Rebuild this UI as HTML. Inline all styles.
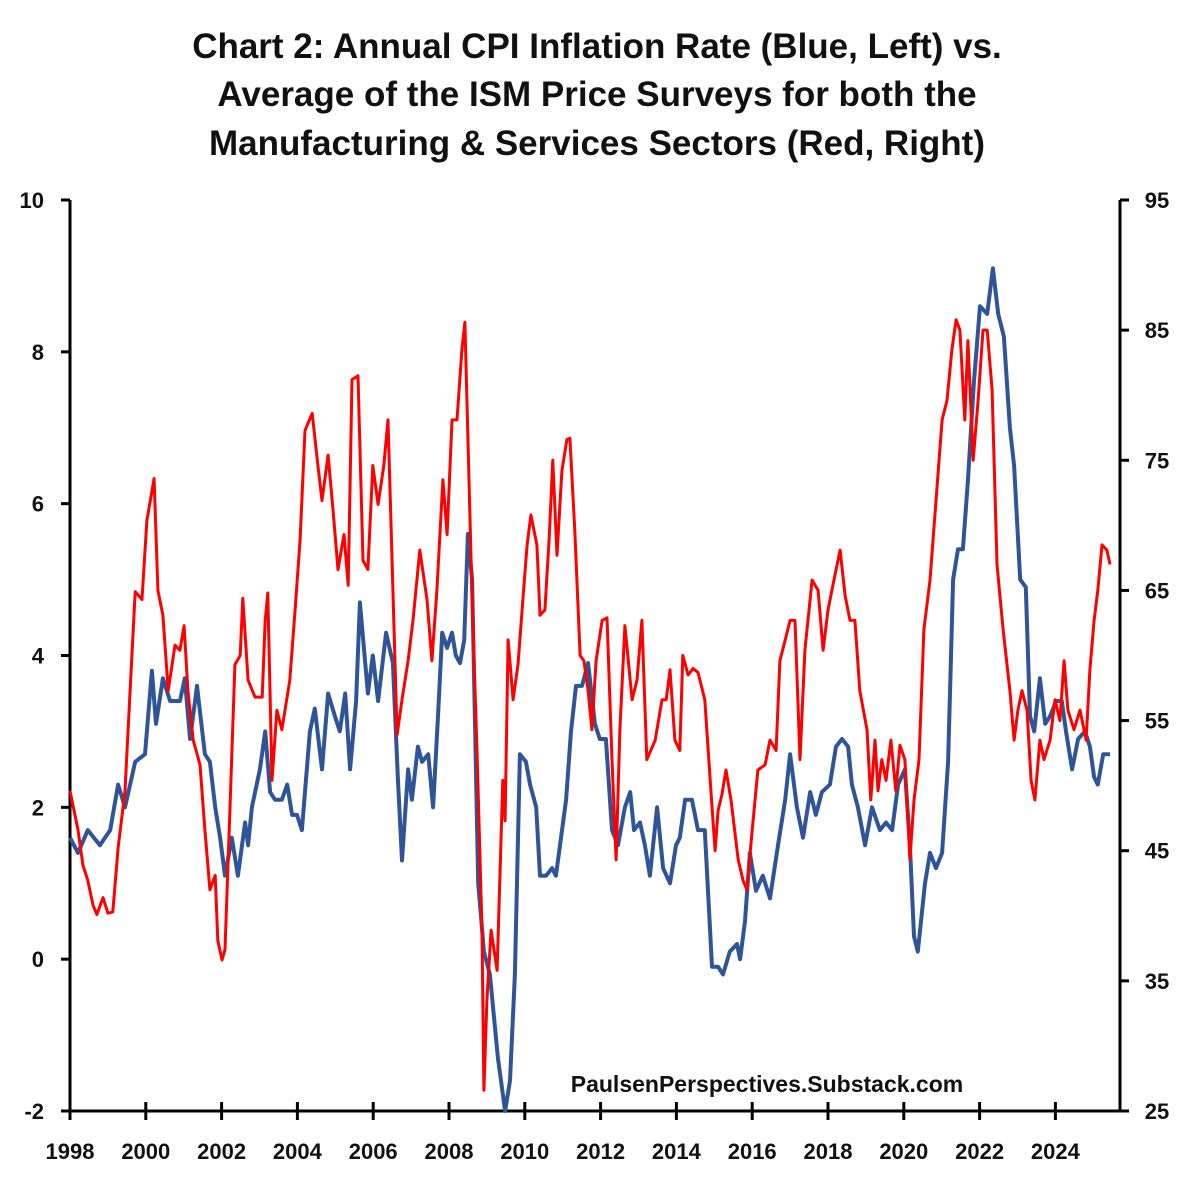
<!DOCTYPE html>
<html><head><meta charset="utf-8"><style>
body{margin:0;background:#fff;}
svg text{font-family:"Liberation Sans",Arial,sans-serif;font-weight:bold;fill:#111;}
</style></head><body>
<svg id="chart" width="1195" height="1179" xmlns="http://www.w3.org/2000/svg">
<g text-anchor="middle">
<text x="597" y="58" style="font-size:35px">Chart 2: Annual CPI Inflation Rate (Blue, Left) vs.</text>
<text x="597" y="106" style="font-size:35px">Average of the ISM Price Surveys for both the</text>
<text x="597" y="155" style="font-size:35px">Manufacturing &amp; Services Sectors (Red, Right)</text>
</g>
<g id="axes"></g>
<g id="series"></g>
<text x="767" y="1092" text-anchor="middle" style="font-size:23px">PaulsenPerspectives.Substack.com</text>
</svg>
<script>
const leftTicks=[-2,0,2,4,6,8,10];
const rightTicks=[25,35,45,55,65,75,85,95];
const yearTicks=[1998,2000,2002,2004,2006,2008,2010,2012,2014,2016,2018,2020,2022,2024];
const cpiDates=[1998.00,1998.21,1998.47,1998.79,1999.06,1999.27,1999.45,1999.72,1999.98,2000.16,2000.27,2000.45,2000.64,2000.90,2001.03,2001.17,2001.35,2001.56,2001.69,2001.83,2001.96,2002.09,2002.27,2002.43,2002.62,2002.70,2002.80,2003.01,2003.15,2003.28,2003.41,2003.59,2003.73,2003.86,2003.99,2004.12,2004.33,2004.46,2004.65,2004.81,2004.99,2005.12,2005.26,2005.39,2005.55,2005.65,2005.86,2005.99,2006.13,2006.34,2006.52,2006.65,2006.76,2006.92,2007.02,2007.18,2007.29,2007.45,2007.58,2007.71,2007.82,2007.95,2008.08,2008.18,2008.29,2008.40,2008.50,2008.61,2008.77,2008.92,2009.08,2009.29,2009.48,2009.61,2009.74,2009.87,2010.03,2010.14,2010.30,2010.40,2010.56,2010.72,2010.82,2010.93,2011.09,2011.22,2011.35,2011.51,2011.67,2011.85,2011.98,2012.14,2012.30,2012.46,2012.64,2012.78,2012.88,2013.04,2013.17,2013.30,2013.49,2013.65,2013.83,2013.99,2014.09,2014.23,2014.41,2014.57,2014.75,2014.94,2015.10,2015.23,2015.41,2015.60,2015.68,2015.81,2015.94,2016.10,2016.28,2016.47,2016.68,2016.87,2017.00,2017.18,2017.34,2017.53,2017.68,2017.84,2018.05,2018.21,2018.37,2018.53,2018.63,2018.79,2018.98,2019.16,2019.37,2019.53,2019.69,2019.85,2020.03,2020.16,2020.27,2020.37,2020.56,2020.69,2020.85,2021.01,2021.17,2021.30,2021.43,2021.56,2021.69,2021.85,2022.01,2022.20,2022.35,2022.49,2022.64,2022.80,2022.91,2023.07,2023.22,2023.33,2023.44,2023.59,2023.73,2023.86,2024.02,2024.17,2024.28,2024.44,2024.60,2024.78,2024.91,2025.02,2025.12,2025.26,2025.44];
const cpiValues=[1.6,1.4,1.7,1.5,1.7,2.3,2.0,2.6,2.7,3.8,3.1,3.7,3.4,3.4,3.7,2.9,3.6,2.7,2.6,2.0,1.6,1.1,1.6,1.1,1.8,1.5,2.0,2.5,3.0,2.2,2.1,2.1,2.3,1.9,1.9,1.7,3.0,3.3,2.5,3.5,3.2,3.0,3.5,2.5,3.4,4.7,3.5,4.0,3.4,4.3,3.9,2.4,1.3,2.5,2.1,2.8,2.6,2.7,2.0,3.2,4.3,4.1,4.3,4.0,3.9,4.2,5.6,5.0,1.0,0.1,-0.2,-1.3,-2.0,-1.6,-0.2,2.7,2.6,2.3,2.0,1.1,1.1,1.2,1.1,1.5,2.1,3.0,3.6,3.6,3.9,3.1,2.9,2.9,1.7,1.5,2.0,2.2,1.7,1.8,1.5,1.1,2.0,1.2,1.0,1.5,1.6,2.1,2.1,1.7,1.7,-0.1,-0.1,-0.2,0.1,0.2,0.0,0.5,1.4,0.9,1.1,0.8,1.5,2.1,2.7,2.0,1.6,2.2,1.9,2.2,2.3,2.8,2.9,2.8,2.3,2.0,1.5,2.0,1.7,1.8,1.7,2.3,2.5,1.5,0.3,0.1,1.0,1.4,1.2,1.4,2.6,5.0,5.4,5.4,6.3,7.6,8.6,8.5,9.1,8.5,8.2,7.0,6.5,5.0,4.9,3.2,3.0,3.7,3.1,3.2,3.4,3.4,3.0,2.5,2.9,3.0,2.8,2.4,2.3,2.7,2.7];
const ismDates=[1998.00,1998.21,1998.34,1998.47,1998.61,1998.71,1998.87,1999.00,1999.13,1999.27,1999.45,1999.58,1999.72,1999.90,2000.03,2000.22,2000.32,2000.45,2000.59,2000.77,2000.90,2001.01,2001.11,2001.25,2001.43,2001.56,2001.69,2001.83,2001.90,2002.01,2002.09,2002.22,2002.35,2002.49,2002.56,2002.70,2002.88,2003.07,2003.15,2003.22,2003.33,2003.46,2003.59,2003.80,2003.94,2004.07,2004.20,2004.39,2004.54,2004.65,2004.81,2004.94,2005.07,2005.23,2005.34,2005.44,2005.60,2005.73,2005.86,2005.99,2006.13,2006.28,2006.39,2006.63,2006.76,2006.92,2007.05,2007.23,2007.42,2007.55,2007.68,2007.84,2007.95,2008.08,2008.21,2008.34,2008.42,2008.61,2008.74,2008.87,2008.92,2009.00,2009.11,2009.27,2009.42,2009.48,2009.56,2009.69,2009.82,2009.95,2010.06,2010.16,2010.32,2010.40,2010.53,2010.64,2010.74,2010.85,2010.98,2011.11,2011.19,2011.32,2011.46,2011.56,2011.67,2011.77,2011.88,2012.04,2012.17,2012.30,2012.41,2012.51,2012.64,2012.83,2012.96,2013.09,2013.22,2013.44,2013.62,2013.73,2013.83,2013.96,2014.09,2014.17,2014.31,2014.44,2014.57,2014.75,2014.91,2015.02,2015.10,2015.20,2015.31,2015.44,2015.63,2015.76,2015.86,2016.00,2016.15,2016.34,2016.47,2016.63,2016.73,2016.87,2017.00,2017.13,2017.26,2017.39,2017.58,2017.74,2017.87,2018.00,2018.13,2018.32,2018.45,2018.58,2018.71,2018.84,2019.03,2019.13,2019.24,2019.32,2019.42,2019.53,2019.66,2019.79,2019.90,2020.03,2020.16,2020.27,2020.40,2020.53,2020.69,2020.85,2021.01,2021.14,2021.27,2021.38,2021.48,2021.61,2021.69,2021.83,2021.96,2022.09,2022.20,2022.33,2022.46,2022.62,2022.80,2022.91,2023.01,2023.12,2023.25,2023.36,2023.46,2023.59,2023.70,2023.86,2023.99,2024.12,2024.23,2024.33,2024.49,2024.65,2024.81,2024.91,2025.02,2025.12,2025.23,2025.36,2025.44];
const ismValues=[49.6,46.6,43.9,42.7,40.8,40.1,41.4,40.2,40.3,45.2,49.6,57.0,64.9,64.3,70.4,73.6,65.0,63.1,57.3,60.8,60.4,62.3,57.3,53.5,51.6,46.6,42.0,43.1,38.1,36.6,37.4,48.1,59.3,60.0,64.4,58.1,56.8,56.8,62.7,64.8,50.4,55.8,54.3,58.1,63.5,68.9,77.3,78.6,74.6,71.9,75.4,71.2,66.6,69.3,65.4,81.2,81.5,67.3,66.6,74.6,71.6,74.6,78.1,53.9,56.6,59.6,62.7,68.1,64.3,59.6,65.0,73.5,69.3,78.1,78.1,83.5,85.6,64.3,52.7,38.9,26.6,33.5,38.9,35.8,50.4,47.3,61.2,56.6,59.3,64.3,68.5,70.8,68.5,63.1,63.5,68.9,75.0,67.7,74.2,76.6,76.7,69.6,60.0,59.6,57.3,54.3,59.6,62.7,62.9,52.0,44.3,54.3,62.3,56.6,58.1,62.7,52.0,53.5,56.6,56.6,58.9,53.5,52.7,60.0,58.5,59.0,58.7,56.6,49.6,45.0,48.1,49.3,51.2,48.9,44.3,42.7,42.0,46.6,51.2,51.6,53.5,52.7,59.6,61.2,62.7,62.7,52.0,60.4,65.8,65.0,60.4,63.5,65.4,68.1,64.6,62.7,62.7,57.3,54.3,48.9,53.5,49.6,52.0,50.4,53.5,49.6,53.1,52.0,44.3,48.9,52.0,62.0,65.8,71.9,78.1,79.6,83.5,85.8,85.0,78.1,84.2,75.0,79.6,85.0,85.0,80.4,67.0,62.0,57.3,53.5,55.8,57.3,55.8,50.4,48.9,53.5,52.0,53.5,56.6,55.0,59.6,55.8,54.3,55.8,53.5,58.9,62.7,65.0,68.5,68.1,67.0];

const NS="http://www.w3.org/2000/svg";
const X0=70,X1=1120,YT=200,YB=1111;
const xScale=t=>X0+(t-1998)*37.9;
const yLeft=v=>YB-(v+2)/12*(YB-YT);
const yRight=v=>YB-(v-25)/70*(YB-YT);
function mk(tag,attrs,parent,txt){const e=document.createElementNS(NS,tag);for(const k in attrs)e.setAttribute(k,attrs[k]);if(txt!==undefined)e.textContent=txt;parent.appendChild(e);return e;}
const ax=document.getElementById('axes');
let e;
e=mk('line',{x1:X0,y1:YT,x2:X0,y2:YB+9,stroke:'#000','stroke-width':3},ax);


e=mk('line',{x1:X1,y1:YT,x2:X1,y2:YB,stroke:'#000','stroke-width':3},ax);


e=mk('line',{x1:X0-9,y1:YB,x2:X1,y2:YB,stroke:'#000','stroke-width':3},ax);


leftTicks.forEach(v=>{const y=yLeft(v);
 mk('line',{x1:X0-9,y1:y,x2:X0,y2:y,stroke:'#000','stroke-width':3},ax);
 e=mk('text',{x:X0-26,y:y+8,'text-anchor':'end','font-size':22},ax,String(v));
 
 });
rightTicks.forEach(v=>{const y=yRight(v);
 mk('line',{x1:X1,y1:y,x2:X1+9,y2:y,stroke:'#000','stroke-width':3},ax);
 e=mk('text',{x:X1+37,y:y+8,'text-anchor':'middle','font-size':22},ax,String(v));
 
 });
yearTicks.forEach(t=>{const x=xScale(t);
 mk('line',{x1:x,y1:YB-9,x2:x,y2:YB+9,stroke:'#000','stroke-width':3},ax);
 e=mk('text',{x:x,y:YB+48,'text-anchor':'middle','font-size':22},ax,String(t));
 
 });
const sg=document.getElementById('series');
function line(dates,vals,ys){return dates.map((d,i)=>(i?'L':'M')+xScale(d).toFixed(1)+','+ys(vals[i]).toFixed(1)).join(' ');}
e=mk('path',{d:line(cpiDates,cpiValues,yLeft),fill:'none',stroke:'#2F5597','stroke-width':4,'stroke-linejoin':'round'},sg);


e=mk('path',{d:line(ismDates,ismValues,yRight),fill:'none',stroke:'#FF0000','stroke-width':3,'stroke-linejoin':'round'},sg);


</script>
</body></html>
